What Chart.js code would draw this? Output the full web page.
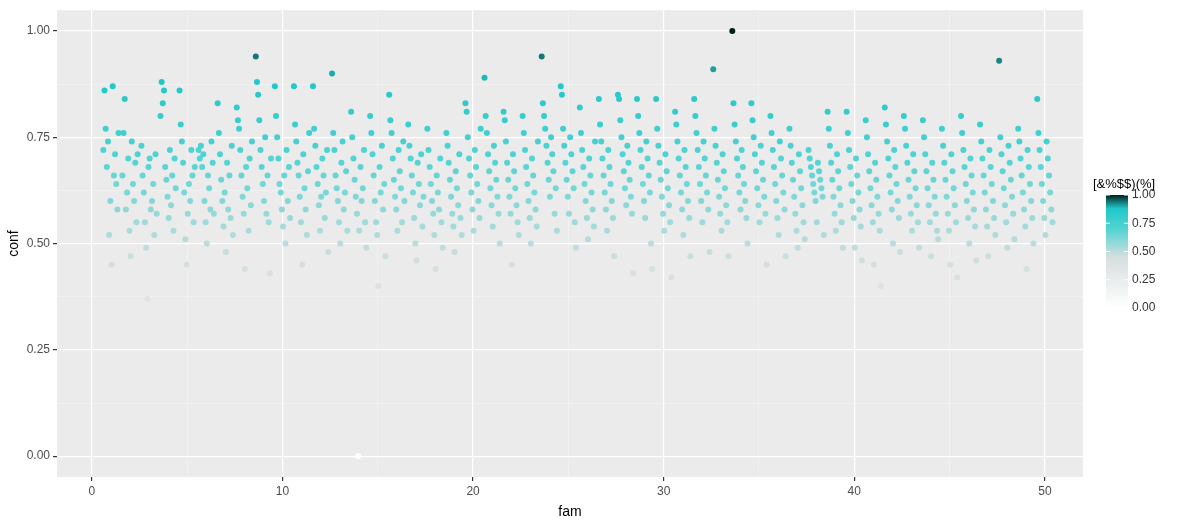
<!DOCTYPE html>
<html><head><meta charset="utf-8">
<script src="https://cdn.jsdelivr.net/npm/chart.js@4"></script>
<style>body{margin:0;background:#fff}#wrap{width:1200px;height:521px}</style>
</head><body><div id="wrap"><canvas id="c"></canvas></div>
<script>
// conf values per family (fam 1..50)
const fams = [1,2,3,4,5,6,7,8,9,10,11,12,13,14,15,16,17,18,19,20,21,22,23,24,25,26,27,28,29,30,31,32,33,34,35,36,37,38,39,40,41,42,43,44,45,46,47,48,49,50];
const confByFam = [
  [0.72,0.86,0.77,0.68,0.74,0.52,0.60,0.45,0.87,0.66,0.71,0.64,0.58,0.76],
  [0.66,0.76,0.84,0.58,0.62,0.70,0.53,0.47,0.74,0.64,0.60,0.69,0.55,0.71],
  [0.73,0.66,0.62,0.55,0.49,0.37,0.68,0.70,0.58,0.60,0.64,0.52,0.71,0.57],
  [0.80,0.88,0.83,0.86,0.68,0.65,0.61,0.56,0.72,0.59,0.66,0.53,0.70,0.63],
  [0.86,0.78,0.74,0.69,0.62,0.51,0.45,0.57,0.64,0.60,0.72,0.66,0.55,0.68],
  [0.72,0.70,0.73,0.68,0.71,0.60,0.55,0.50,0.66,0.63,0.58,0.74,0.69,0.57],
  [0.83,0.76,0.71,0.65,0.60,0.54,0.62,0.48,0.69,0.58,0.66,0.56,0.73,0.52],
  [0.82,0.79,0.77,0.72,0.66,0.61,0.57,0.44,0.68,0.63,0.53,0.70,0.59,0.74],
  [0.94,0.88,0.85,0.79,0.72,0.68,0.64,0.60,0.75,0.57,0.66,0.55,0.43,0.70],
  [0.87,0.80,0.75,0.70,0.64,0.62,0.58,0.54,0.66,0.50,0.72,0.60,0.68,0.56],
  [0.87,0.78,0.74,0.69,0.66,0.61,0.55,0.45,0.71,0.63,0.58,0.52,0.67,0.76],
  [0.87,0.77,0.73,0.68,0.64,0.59,0.53,0.61,0.70,0.66,0.56,0.62,0.72,0.48],
  [0.90,0.76,0.72,0.66,0.63,0.60,0.55,0.50,0.69,0.74,0.58,0.62,0.67,0.53],
  [0.81,0.75,0.70,0.65,0.61,0.57,0.00,0.53,0.68,0.60,0.63,0.72,0.55,0.49],
  [0.80,0.76,0.71,0.66,0.60,0.55,0.52,0.40,0.68,0.62,0.73,0.58,0.64,0.47],
  [0.85,0.79,0.76,0.70,0.65,0.61,0.58,0.53,0.72,0.67,0.63,0.55,0.74,0.60],
  [0.78,0.73,0.70,0.66,0.62,0.56,0.50,0.46,0.69,0.64,0.59,0.71,0.54,0.61],
  [0.77,0.72,0.68,0.64,0.60,0.57,0.52,0.44,0.66,0.62,0.58,0.70,0.55,0.49],
  [0.76,0.73,0.69,0.65,0.61,0.57,0.54,0.48,0.67,0.63,0.59,0.71,0.56,0.52],
  [0.83,0.81,0.75,0.70,0.66,0.62,0.58,0.53,0.72,0.68,0.64,0.60,0.56,0.77],
  [0.89,0.80,0.76,0.71,0.67,0.63,0.59,0.54,0.73,0.69,0.65,0.61,0.57,0.50],
  [0.81,0.79,0.74,0.69,0.65,0.61,0.57,0.45,0.71,0.67,0.63,0.59,0.55,0.52],
  [0.80,0.76,0.72,0.68,0.64,0.60,0.56,0.50,0.70,0.66,0.62,0.58,0.54,0.74],
  [0.94,0.83,0.80,0.77,0.73,0.69,0.65,0.61,0.75,0.71,0.67,0.57,0.63,0.53],
  [0.87,0.85,0.77,0.73,0.69,0.65,0.61,0.57,0.75,0.71,0.67,0.63,0.55,0.49],
  [0.82,0.76,0.72,0.68,0.64,0.60,0.56,0.51,0.70,0.66,0.62,0.58,0.54,0.74],
  [0.84,0.78,0.74,0.70,0.66,0.62,0.58,0.53,0.72,0.68,0.64,0.60,0.56,0.47],
  [0.85,0.84,0.79,0.75,0.71,0.67,0.63,0.59,0.73,0.69,0.65,0.61,0.57,0.43],
  [0.84,0.80,0.76,0.72,0.68,0.64,0.60,0.56,0.74,0.70,0.66,0.62,0.50,0.44],
  [0.84,0.77,0.73,0.69,0.65,0.61,0.57,0.53,0.71,0.67,0.63,0.59,0.55,0.42],
  [0.81,0.78,0.74,0.70,0.66,0.62,0.58,0.52,0.72,0.68,0.64,0.60,0.56,0.47],
  [0.84,0.80,0.76,0.72,0.68,0.64,0.60,0.55,0.74,0.70,0.66,0.62,0.58,0.48],
  [0.91,0.77,0.73,0.69,0.65,0.61,0.57,0.53,0.71,0.67,0.63,0.59,0.55,0.47],
  [1.00,0.83,0.78,0.74,0.70,0.66,0.62,0.58,0.72,0.68,0.64,0.60,0.56,0.50],
  [0.83,0.79,0.75,0.71,0.67,0.63,0.59,0.55,0.73,0.69,0.65,0.61,0.57,0.45],
  [0.80,0.76,0.72,0.68,0.64,0.60,0.56,0.52,0.74,0.70,0.66,0.62,0.58,0.47],
  [0.77,0.73,0.69,0.65,0.61,0.57,0.53,0.49,0.71,0.67,0.63,0.59,0.55,0.51],
  [0.72,0.70,0.68,0.66,0.64,0.62,0.60,0.55,0.69,0.67,0.65,0.63,0.61,0.52],
  [0.81,0.77,0.73,0.69,0.65,0.61,0.57,0.53,0.71,0.67,0.63,0.59,0.55,0.49],
  [0.81,0.76,0.72,0.68,0.64,0.60,0.56,0.49,0.70,0.66,0.62,0.58,0.54,0.46],
  [0.79,0.75,0.71,0.67,0.63,0.59,0.55,0.45,0.69,0.65,0.61,0.57,0.53,0.40],
  [0.82,0.78,0.74,0.70,0.66,0.62,0.58,0.50,0.72,0.68,0.64,0.60,0.56,0.48],
  [0.80,0.77,0.73,0.69,0.65,0.61,0.57,0.53,0.71,0.67,0.63,0.59,0.55,0.49],
  [0.79,0.75,0.71,0.67,0.63,0.59,0.55,0.47,0.69,0.65,0.61,0.57,0.53,0.51],
  [0.77,0.73,0.69,0.65,0.61,0.57,0.53,0.45,0.71,0.67,0.63,0.59,0.55,0.42],
  [0.80,0.76,0.72,0.68,0.64,0.60,0.56,0.50,0.70,0.66,0.62,0.58,0.54,0.46],
  [0.78,0.74,0.70,0.66,0.62,0.58,0.54,0.47,0.72,0.68,0.64,0.60,0.56,0.52],
  [0.93,0.75,0.71,0.67,0.63,0.59,0.55,0.49,0.73,0.69,0.65,0.61,0.57,0.51],
  [0.77,0.74,0.70,0.66,0.62,0.58,0.54,0.44,0.72,0.68,0.64,0.60,0.56,0.50],
  [0.84,0.76,0.72,0.68,0.64,0.60,0.56,0.52,0.74,0.70,0.66,0.62,0.58,0.55]
];
const xTicks = [0,10,20,30,40,50];
const yTicks = [0,0.25,0.5,0.75,1];
const legendTitle = '[&%$$)(%]';

// colour scale: white -> grey -> cyan -> dark teal
const stops = [[0,[255,255,255]],[0.45,[214,222,222]],[0.68,[90,212,212]],[0.88,[30,200,200]],[0.94,[20,120,120]],[1,[0,30,30]]];
function colourOf(v) {
  for (let i = 1; i < stops.length; i++) {
    if (v <= stops[i][0]) {
      const a = stops[i-1], b = stops[i], t = (v - a[0]) / (b[0] - a[0]);
      const c = a[1].map((x, k) => Math.round(x + (b[1][k] - x) * t));
      return `rgb(${c.join(',')})`;
    }
  }
  return 'rgb(0,30,30)';
}

const points = [];
fams.forEach((f, fi) => {
  const vals = confByFam[fi];
  vals.forEach((v, i) => {
    points.push({ x: f + (i / (vals.length - 1) - 0.5) * 0.8, y: v });
  });
});

const panelBg = {
  id: 'panelBg',
  beforeDraw(chart) {
    const { ctx, chartArea: a } = chart;
    ctx.save(); ctx.fillStyle = '#EBEBEB';
    ctx.fillRect(a.left, a.top, a.right - a.left, a.bottom - a.top); ctx.restore();
  },
  afterDraw(chart) {
    const ctx = chart.ctx;
    const x0 = 1106, top = 195, bot = 308, w = 22;
    const g = ctx.createLinearGradient(0, bot, 0, top);
    stops.forEach(s => g.addColorStop(s[0], `rgb(${s[1].join(',')})`));
    ctx.save();
    ctx.fillStyle = g; ctx.fillRect(x0, top, w, bot - top);
    ctx.fillStyle = '#000'; ctx.font = '13px "Liberation Sans", Arial';
    ctx.textBaseline = 'alphabetic'; ctx.fillText(legendTitle, 1093, 188);
    ctx.font = '12px "Liberation Sans", Arial'; ctx.fillStyle = '#333'; ctx.textBaseline = 'middle';
    [0, 0.25, 0.5, 0.75, 1].forEach(v => {
      const y = bot - v * (bot - top);
      ctx.strokeStyle = '#fff'; ctx.beginPath();
      ctx.moveTo(x0, y); ctx.lineTo(x0 + 4, y); ctx.moveTo(x0 + w - 4, y); ctx.lineTo(x0 + w, y); ctx.stroke();
      ctx.fillText(v.toFixed(2), x0 + w + 4, y);
    });
    ctx.restore();
  }
};

const isMajor = c => !!(c.tick && c.tick.major);
const gridCol = c => isMajor(c) ? '#FFFFFF' : '#F5F5F5';
const tickCol = c => isMajor(c) ? '#333333' : 'rgba(0,0,0,0)';

new Chart(document.getElementById('c'), {
  type: 'scatter',
  data: { datasets: [{
    data: points,
    pointRadius: 3, pointHoverRadius: 3, borderWidth: 0,
    pointBackgroundColor: points.map(p => colourOf(p.y))
  }] },
  options: {
    responsive: true, maintainAspectRatio: false, animation: false,
    layout: { padding: { right: 117, top: 7, left: 6, bottom: 0 } },
    plugins: { legend: { display: false }, tooltip: { enabled: false } },
    scales: {
      x: {
        type: 'linear', min: -1.83, max: 52,
        afterBuildTicks: ax => {
          const t = [];
          for (let v = 0; v <= 50; v += 5) t.push({ value: v, major: xTicks.includes(v) });
          ax.ticks = t;
        },
        afterFit: ax => { ax.height = 44; },
        ticks: { color: '#4D4D4D', font: { size: 12 }, maxRotation: 0, padding: 3,
          callback: v => xTicks.includes(v) ? String(v) : '' },
        grid: { color: gridCol, lineWidth: c => isMajor(c) ? 1.2 : 0.6, drawTicks: true, tickColor: tickCol, tickLength: 4 },
        border: { display: false },
        title: { display: true, text: 'fam', color: '#000', font: { size: 14 }, padding: 0 }
      },
      y: {
        min: -0.049, max: 1.049,
        afterBuildTicks: ax => {
          const t = [];
          for (let v = 0; v <= 1.0001; v += 0.125) t.push({ value: +v.toFixed(3), major: yTicks.includes(+v.toFixed(3)) });
          ax.ticks = t;
        },
        afterFit: ax => { ax.width = 51; },
        ticks: { color: '#4D4D4D', font: { size: 12 }, padding: 3,
          callback: v => yTicks.includes(v) ? v.toFixed(2) : '' },
        grid: { color: gridCol, lineWidth: c => isMajor(c) ? 1.2 : 0.6, tickColor: tickCol, tickLength: 4 },
        border: { display: false },
        title: { display: true, text: 'conf', color: '#000', font: { size: 14 }, padding: 0 }
      }
    }
  },
  plugins: [panelBg]
});
</script></body></html>
